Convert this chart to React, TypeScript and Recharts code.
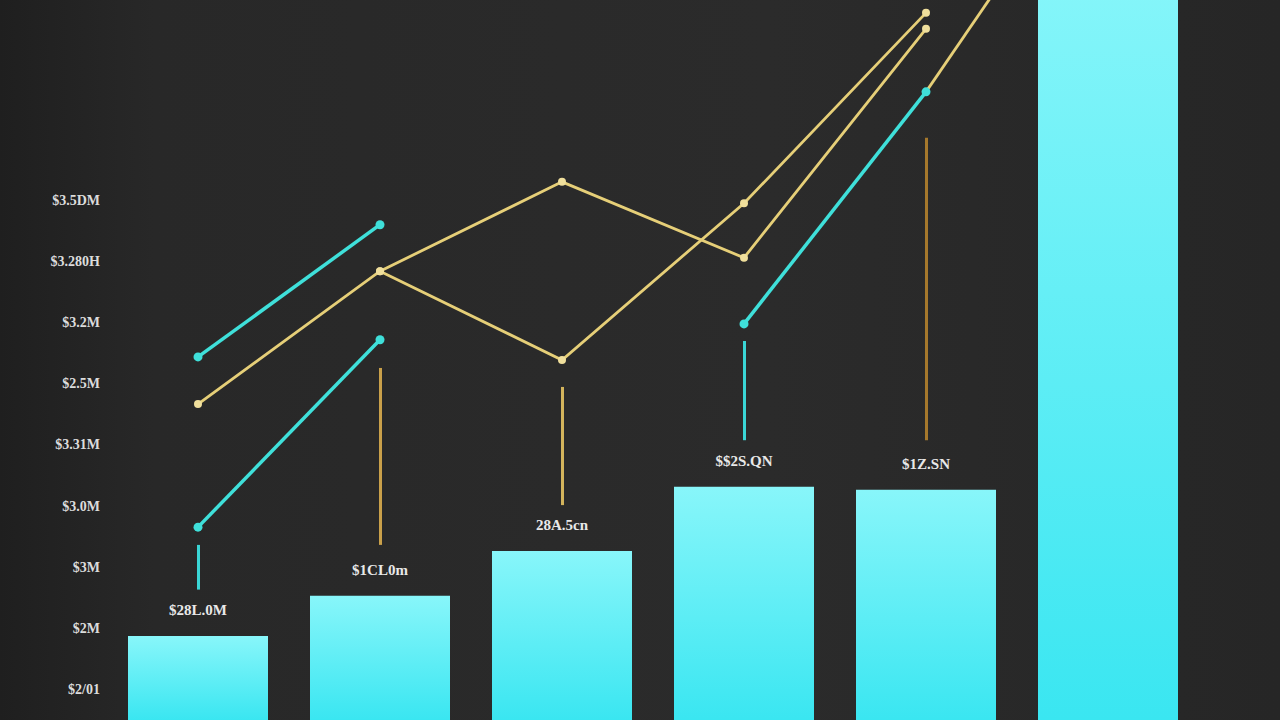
import React from "react";
import { ComposedChart, Bar, Line, XAxis, YAxis, Cell, LabelList } from "recharts";

const categories = ["Q1", "Q2", "Q3", "Q4", "Q5", "Q6"];
const barValues = [13.7, 20.3, 27.6, 38.1, 37.6, 125];
const barLabels = ["$28L.0M", "$1CL0m", "28A.5cn", "$$2S.QN", "$1Z.SN", ""];
const goldA = [51.6, 73.3, 87.9, 75.5, 112.9, null];
const goldB = [null, 73.3, 58.8, 84.4, 115.5, null];
const goldC = [null, null, null, null, 102.6, 146];
const cyanA = [59.3, 80.9, null, null, null, null];
const cyanB = [31.5, 62.1, null, null, null, null];
const cyanC = [null, null, null, 64.7, 102.6, null];
const stemLow = [21.3, 28.6, 35.1, 45.7, 45.7, null];
const stemHigh = [28.6, 57.5, 54.4, 61.9, 95.1, null];
const stemColors = ["#3ad6d6", "#c9a04a", "#d3b45c", "#3ad6d6", "#a5782c", "#000000"];
const tickValues = [5, 15, 25, 35, 45, 55, 65, 75, 85];
const tickLabels = ["$2/01", "$2M", "$3M", "$3.0M", "$3.31M", "$2.5M", "$3.2M", "$3.280H", "$3.5DM"];

const data = categories.map((c, i) => ({
  name: c,
  bar: barValues[i],
  label: barLabels[i],
  goldA: goldA[i],
  goldB: goldB[i],
  goldC: goldC[i],
  cyanA: cyanA[i],
  cyanB: cyanB[i],
  cyanC: cyanC[i],
  stem: stemLow[i] == null ? null : [stemLow[i], stemHigh[i]],
}));

const GOLD = "#e6cf78";
const CYAN = "#3fe0da";

export default function App() {
  return (
    <div
      style={{
        position: "fixed",
        top: 0,
        left: 0,
        width: 1280,
        height: 720,
        background: "linear-gradient(90deg, #1f1f1f 0%, #282828 12%, #2b2b2b 60%, #262626 100%)",
      }}
    >
      <ComposedChart width={1280} height={720} data={data} margin={{ top: 0, right: 81, bottom: 0, left: 0 }}>
        <defs>
          <linearGradient id="barGrad" x1="0" y1="0" x2="0" y2="1">
            <stop offset="0%" stopColor="#88f6fa" />
            <stop offset="100%" stopColor="#3ae6f1" />
          </linearGradient>
        </defs>
        <XAxis dataKey="name" hide />
        <XAxis dataKey="name" xAxisId="t" hide />
        <YAxis
          width={107}
          domain={[0, 117.6]}
          allowDataOverflow
          ticks={tickValues}
          tickFormatter={(v: number) => tickLabels[tickValues.indexOf(v)] ?? ""}
          axisLine={false}
          tickLine={false}
          tickSize={0}
          tickMargin={7}
          tick={{ fill: "#dcdcdc", fontSize: 14, fontFamily: "Liberation Serif", fontWeight: 600 }}
        />
        <Bar dataKey="bar" barSize={140} fill="url(#barGrad)" isAnimationActive={false}>
          <LabelList
            dataKey="label"
            position="top"
            offset={21}
            fill="#e8e8e8"
            fontSize={15}
            fontWeight={600}
            fontFamily="Liberation Serif"
          />
        </Bar>
        <Bar dataKey="stem" xAxisId="t" barSize={3} isAnimationActive={false}>
          {data.map((d, i) => (
            <Cell key={i} fill={stemColors[i]} />
          ))}
        </Bar>
        <Line dataKey="goldA" stroke={GOLD} strokeWidth={2.8} dot={{ r: 4, fill: "#f0df9c", stroke: "none" }} isAnimationActive={false} />
        <Line dataKey="goldB" stroke={GOLD} strokeWidth={2.8} dot={{ r: 4, fill: "#f0df9c", stroke: "none" }} isAnimationActive={false} />
        <Line dataKey="goldC" stroke={GOLD} strokeWidth={2.8} dot={false} isAnimationActive={false} />
        <Line dataKey="cyanA" stroke={CYAN} strokeWidth={3.5} dot={{ r: 4.5, fill: CYAN, stroke: "none" }} isAnimationActive={false} />
        <Line dataKey="cyanB" stroke={CYAN} strokeWidth={3.5} dot={{ r: 4.5, fill: CYAN, stroke: "none" }} isAnimationActive={false} />
        <Line dataKey="cyanC" stroke={CYAN} strokeWidth={3.5} dot={{ r: 4.5, fill: CYAN, stroke: "none" }} isAnimationActive={false} />
      </ComposedChart>
    </div>
  );
}
